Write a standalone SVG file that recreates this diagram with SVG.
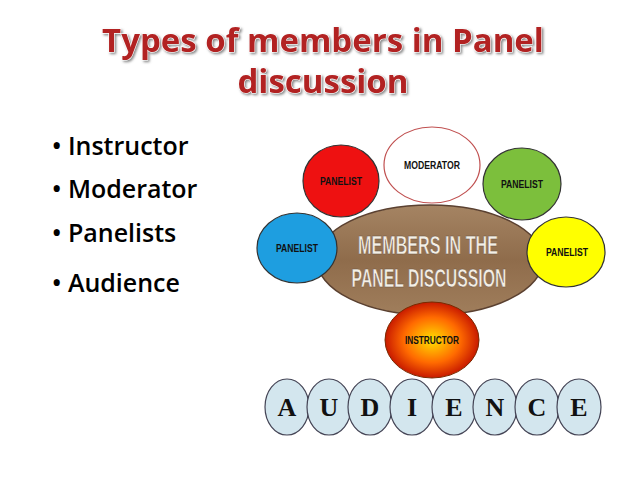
<svg xmlns="http://www.w3.org/2000/svg" width="638" height="479" viewBox="0 0 638 479">
<defs>
<style>
.t{font-family:"Open Sans","Liberation Sans",sans-serif;font-weight:bold;font-size:33px;fill:#b22222;stroke:#fff;stroke-width:1.2;paint-order:stroke;text-anchor:middle}
.b{font-family:"Open Sans","Liberation Sans",sans-serif;font-weight:600;font-size:25px;fill:#000}
.l{font-family:"Liberation Sans",sans-serif;font-weight:bold;font-size:10px;text-anchor:middle;fill:#111}
.a{font-family:"Liberation Serif",serif;font-weight:bold;font-size:26px;text-anchor:middle;fill:#111}
.c{fill:#d3e6ee;stroke:#445;stroke-width:1.2}
.w{font-family:"Liberation Sans",sans-serif;font-weight:bold;font-size:25px;fill:#f4efe6;stroke:#6a5040;stroke-width:0.5;text-anchor:middle}
</style>
<radialGradient id="ig"><stop offset="0" stop-color="#ffe000"/><stop offset="0.6" stop-color="#ff6a00"/><stop offset="1" stop-color="#c81a00"/></radialGradient>
<linearGradient id="wd" x1="0" y1="0" x2="0" y2="1"><stop offset="0" stop-color="#a58463"/><stop offset="0.5" stop-color="#8f6c4b"/><stop offset="1" stop-color="#a07e5c"/></linearGradient>
<filter id="sh"><feDropShadow dx="1.5" dy="1.5" stdDeviation="1" flood-color="#888"/></filter>
</defs>
<rect width="638" height="479" fill="#fff"/>
<g id="title" filter="url(#sh)">
<text class="t" x="323" y="52">Types of members in Panel</text>
<text class="t" x="323" y="93">discussion</text>
</g>
<g id="bullets" class="b">
<text x="52" y="155">• Instructor</text>
<text x="52" y="198">• Moderator</text>
<text x="52" y="242">• Panelists</text>
<text x="52" y="292">• Audience</text>
</g>
<g id="connectors"></g>
<g id="center">
<ellipse cx="430" cy="260" rx="113" ry="55" fill="url(#wd)" stroke="#5a4030" stroke-width="1.5"/>
<text class="w" x="428" y="254" textLength="140" lengthAdjust="spacingAndGlyphs">MEMBERS IN THE</text>
<text class="w" x="429" y="287" textLength="155" lengthAdjust="spacingAndGlyphs">PANEL DISCUSSION</text>
</g>
<g id="moderator"><ellipse cx="432" cy="165" rx="48" ry="38" fill="#fff" stroke="#c05050" stroke-width="1.2"/><text class="l" x="432" y="169" textLength="56" lengthAdjust="spacingAndGlyphs">MODERATOR</text></g>
<g id="p-red"><ellipse cx="341" cy="181" rx="38" ry="36" fill="#ee1111" stroke="#333" stroke-width="1.2"/><text class="l" x="341" y="185" textLength="42" lengthAdjust="spacingAndGlyphs">PANELIST</text></g>
<g id="p-green"><ellipse cx="522" cy="184" rx="39" ry="36" fill="#7cbf3c" stroke="#333" stroke-width="1.2"/><text class="l" x="522" y="188" textLength="42" lengthAdjust="spacingAndGlyphs">PANELIST</text></g>
<g id="p-blue"><ellipse cx="297" cy="248" rx="40" ry="35" fill="#1e9ee0" stroke="#333" stroke-width="1.2"/><text class="l" x="297" y="252" textLength="42" lengthAdjust="spacingAndGlyphs">PANELIST</text></g>
<g id="p-yellow"><ellipse cx="566" cy="252" rx="39" ry="35" fill="#ffff00" stroke="#333" stroke-width="1.2"/><text class="l" x="567" y="256" textLength="42" lengthAdjust="spacingAndGlyphs">PANELIST</text></g>
<g id="instructor"><ellipse cx="432" cy="340" rx="47" ry="38" fill="url(#ig)" stroke="#7a2a00" stroke-width="1"/><text class="l" x="432" y="344" textLength="54" lengthAdjust="spacingAndGlyphs">INSTRUCTOR</text></g>
<g id="audience">
<ellipse class="c" cx="287" cy="407" rx="22" ry="28"/><text class="a" x="287" y="416">A</text>
<ellipse class="c" cx="329" cy="407" rx="22" ry="28"/><text class="a" x="329" y="416">U</text>
<ellipse class="c" cx="370" cy="407" rx="22" ry="28"/><text class="a" x="370" y="416">D</text>
<ellipse class="c" cx="412" cy="407" rx="22" ry="28"/><text class="a" x="412" y="416">I</text>
<ellipse class="c" cx="454" cy="407" rx="22" ry="28"/><text class="a" x="454" y="416">E</text>
<ellipse class="c" cx="495" cy="407" rx="22" ry="28"/><text class="a" x="495" y="416">N</text>
<ellipse class="c" cx="537" cy="407" rx="22" ry="28"/><text class="a" x="537" y="416">C</text>
<ellipse class="c" cx="579" cy="407" rx="22" ry="28"/><text class="a" x="579" y="416">E</text>
</g>
</svg>
